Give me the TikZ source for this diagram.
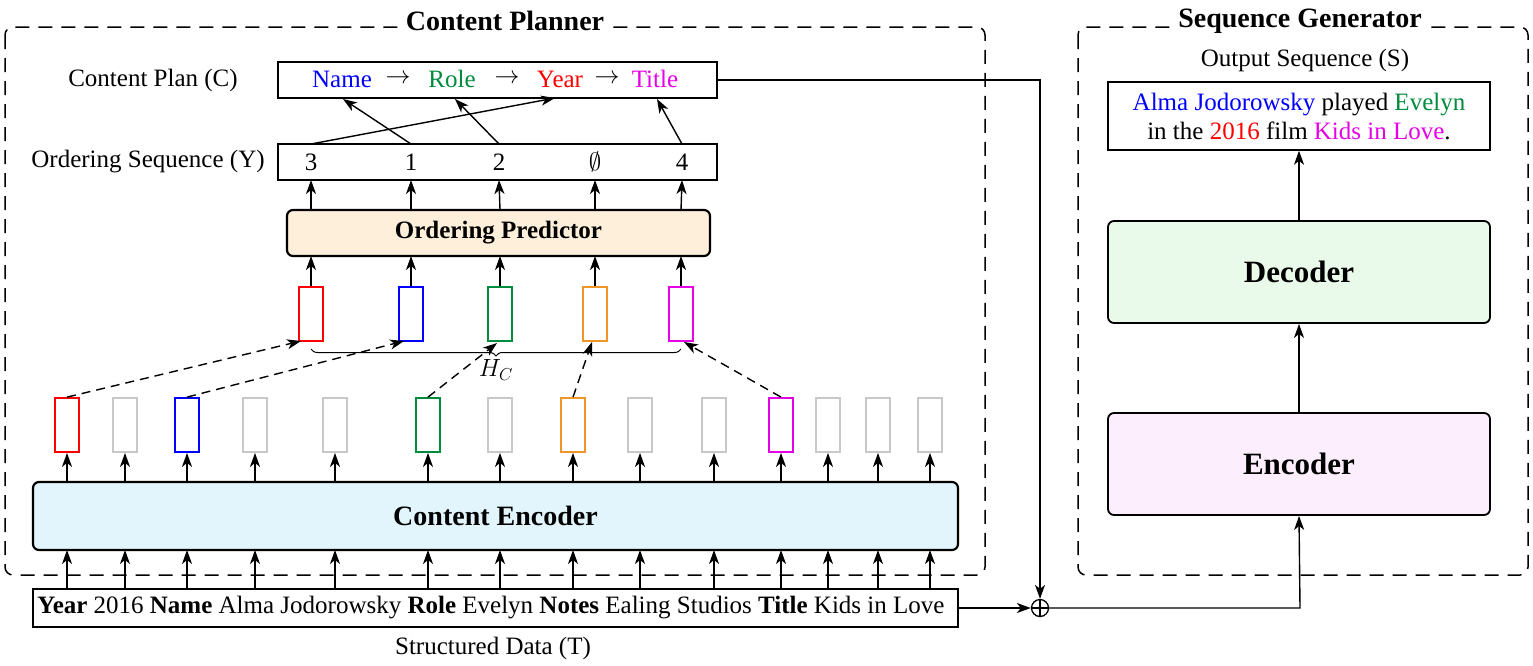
\documentclass[tikz,border=0pt]{standalone}
\usepackage{fontspec}
\setmainfont{Liberation Serif}
\usetikzlibrary{arrows.meta,decorations.pathreplacing}
\definecolor{cgreen}{RGB}{0,140,60}
\definecolor{corange}{RGB}{240,150,40}
\definecolor{cmag}{RGB}{230,0,230}
\definecolor{cgray}{RGB}{200,200,200}
\begin{document}
\begin{tikzpicture}[x=1pt,y=-1pt,font=\fontsize{25}{29}\selectfont,
  >={Stealth[length=14pt,width=10pt,inset=4pt]},
  dbox/.style={draw,dash pattern=on 14pt off 9pt,rounded corners=8pt,line width=1.5pt},
  sbox/.style={draw,line width=1.5pt,inner sep=0pt},
  bigbox/.style={draw,line width=2.2pt,rounded corners=6pt,inner sep=0pt},
  cell/.style={draw,line width=1.8pt,minimum width=24pt,minimum height=54pt,inner sep=0pt},
  arr/.style={->,line width=1.4pt},
  darr/.style={->,line width=1.4pt,dash pattern=on 9pt off 6pt}]
\useasboundingbox (0,0) rectangle (1533,665);
% dashed frames
\draw[dbox] (5,27) rectangle (985,575);
\draw[dbox] (1078,27) rectangle (1528,575);
\node[fill=white,font=\fontsize{28}{32}\selectfont\bfseries] (tcp) at (505,21) {Content Planner};
\node[fill=white,font=\fontsize{28}{32}\selectfont\bfseries] (tsg) at (1300,21) {Sequence Generator};
% content plan
\node[sbox,minimum width=439pt,minimum height=36pt] (cp) at (497.5,80) {};
\node (cpl) at (153,80) {Content Plan (C)};
\node[text=blue] (wname) at (342,79) {Name};
\node at (398,79) {$\rightarrow$};
\node[text=cgreen] (wrole) at (452,79) {Role};
\node at (507,79) {$\rightarrow$};
\node[text=red] (wyear) at (560,79) {Year};
\node at (607,79) {$\rightarrow$};
\node[text=cmag] (wtitle) at (655,79) {Title};
% ordering sequence
\node[sbox,minimum width=439pt,minimum height=36pt] (os) at (497.5,162) {};
\node (osl) at (148,162) {Ordering Sequence (Y)};
\foreach \n/\x/\t in {1/311/3,2/411/1,3/499/2,4/595/$\emptyset$,5/682/4}{
  \node (y\n) at (\x,162) {\t};
  \coordinate (yt\n) at (\x,144);
  \coordinate (yb\n) at (\x,180);
}
\draw[arr] (yt1) -- (555,98);
\draw[arr] (yt2) -- (343,99);
\draw[arr] (yt3) -- (455,99);
\draw[arr] (yt5) -- (657,99);
% ordering predictor
\node[bigbox,fill={rgb,255:red,253;green,239;blue,218},minimum width=423pt,minimum height=46pt,font=\fontsize{25}{29}\selectfont\bfseries] (op) at (498.5,233) {Ordering Predictor};
\foreach \n/\x/\c in {1/311/red,2/411/blue,3/500/cgreen,4/595/corange,5/681/cmag}{
  \draw[arr] (\x,210) -- (yb\n);
  \node[cell,draw=\c] (h\n) at (\x,314) {};
  \draw[arr] (h\n.north) -- (\x,256);
}
% brace
\draw[line width=1pt,decorate,decoration={brace,amplitude=7pt,mirror}] (311,349) -- (681,349) node[midway,below=7pt] (hc) {$H_C$};
% content encoder
\node[bigbox,fill={rgb,255:red,226;green,245;blue,252},minimum width=925pt,minimum height=68pt,font=\fontsize{28}{32}\selectfont\bfseries] (ce) at (495.5,516) {Content Encoder};
\node[sbox,minimum width=925pt,minimum height=38pt] (data) at (495.5,608) {};
\node (dtext) at (491,608) {\textbf{Year} 2016 \textbf{Name} Alma Jodorowsky \textbf{Role} Evelyn \textbf{Notes} Ealing Studios \textbf{Title} Kids in Love};
\node (dl) at (493,648) {Structured Data (T)};
\foreach \n/\x/\c in {1/67/red,2/125/cgray,3/187/blue,4/255/cgray,5/335/cgray,6/428/cgreen,7/500/cgray,8/573/corange,9/640/cgray,10/714/cgray,11/781/cmag,12/828/cgray,13/878/cgray,14/930/cgray}{
  \node[cell,draw=\c] (e\n) at (\x,425) {};
  \draw[arr] (\x,482) -- (e\n.south);
  \draw[arr] (\x,589) -- (\x,550);
}
\draw[darr] (e1.north) -- (301,341);
\draw[darr] (e3.north) -- (404,341);
\draw[darr] (e6.north) -- (497,343);
\draw[darr] (e8.north) -- (592,342);
\draw[darr] (e11.north) -- (684,342);
% oplus
\node[draw,circle,line width=1.3pt,minimum size=17pt,inner sep=0pt] (op2) at (1040,608) {};
\draw[line width=1.3pt] (op2.north) -- (op2.south) (op2.west) -- (op2.east);
\draw[arr] (cp.east) -- (1040,80) -- (op2.north);
\draw[arr] (data.east) -- (op2.west);
% sequence generator
\node[bigbox,line width=1.8pt,fill={rgb,255:red,252;green,238;blue,252},minimum width=382pt,minimum height=102pt,font=\fontsize{31}{35}\selectfont\bfseries] (enc) at (1299,464) {Encoder};
\node[bigbox,line width=1.8pt,fill={rgb,255:red,234;green,250;blue,234},minimum width=382pt,minimum height=102pt,font=\fontsize{31}{35}\selectfont\bfseries] (dec) at (1299,272) {Decoder};
\node[sbox,minimum width=382pt,minimum height=68pt,align=center] (out) at (1299,116) {\textcolor{blue}{Alma Jodorowsky} played \textcolor{cgreen}{Evelyn}\\in the \textcolor{red}{2016} film \textcolor{cmag}{Kids in Love}.};
\node (outl) at (1305,60) {Output Sequence (S)};
\draw[arr] (op2.east) -- (1300,608) -- (enc.south);
\draw[arr] (enc.north) -- (dec.south);
\draw[arr] (dec.north) -- (out.south);
\end{tikzpicture}
\end{document}
